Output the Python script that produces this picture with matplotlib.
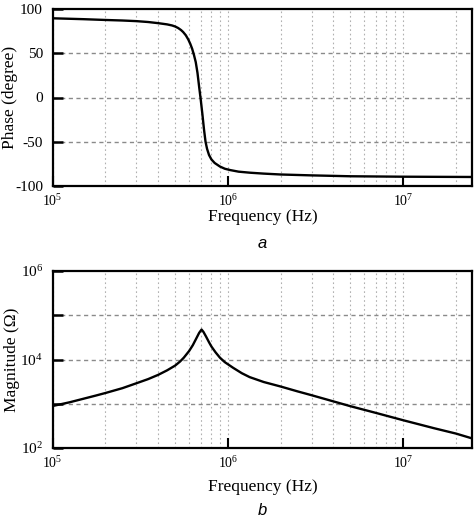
import numpy as np
import matplotlib
matplotlib.use("Agg")
import matplotlib.pyplot as plt
from matplotlib.ticker import FixedLocator, FixedFormatter, NullFormatter

plt.rcParams['font.family'] = ['Liberation Serif', 'DejaVu Serif']
plt.rcParams['mathtext.fontset'] = 'custom'
plt.rcParams['mathtext.rm'] = 'Liberation Serif'
plt.rcParams['mathtext.it'] = 'Liberation Serif:italic'

# ---- data ----
phase_freq = [1e5, 1.5e5, 2e5, 2.5e5, 3e5, 3.5e5, 4e5, 4.5e5, 4.8e5, 5e5, 5.2e5,
              5.4e5, 5.55e5, 5.75e5, 5.94e5, 6.1e5, 6.25e5, 6.4e5, 6.55e5, 6.7e5,
              6.85e5, 7.0e5, 7.15e5, 7.3e5, 7.45e5, 7.6e5, 7.8e5, 8.05e5, 8.4e5,
              9e5, 9.6e5, 1.03e6, 1.15e6, 1.34e6, 1.6e6, 2e6, 3e6, 5e6, 1e7, 2.47e7]
phase_deg = [89.5, 88.5, 87.6, 87.0, 86.3, 85.3, 84.0, 82.6, 81.4, 80.2, 78.5,
             76.2, 74.0, 70.3, 65.5, 60.5, 55.0, 48.0, 40.0, 28.0,
             12.0, -3.0, -19.0, -36.0, -50.0, -58.0, -65.0, -70.0, -74.0,
             -78.0, -80.5, -82.0, -83.8, -85.0, -86.0, -87.0, -88.0, -89.0, -89.5, -89.8]

mag_freq = [1e5, 1.25e5, 1.5e5, 1.75e5, 2e5, 2.5e5, 3e5, 3.5e5, 4e5, 4.5e5, 5e5,
            5.33e5, 5.6e5, 6e5, 6.3e5, 6.6e5, 6.85e5, 7.07e5, 7.25e5, 7.5e5, 7.8e5,
            8.06e5, 8.5e5, 9e5, 9.6e5, 1.07e6, 1.2e6, 1.33e6, 1.6e6, 2e6, 2.5e6,
            3e6, 4e6, 5e6, 7e6, 1e7, 1.5e7, 2e7, 2.47e7]
mag_ohm = [890, 1080, 1300, 1520, 1750, 2250, 2900, 3600, 4500, 5700, 7300,
           9000, 11000, 15500, 21000, 30000, 40000, 47500, 42000, 33000, 24500,
           19500, 14500, 11000, 8700, 6500, 4900, 4000, 3100, 2450, 1900,
           1560, 1130, 880, 620, 424, 280, 212, 165]

x_major = [1e5, 1e6, 1e7]
x_major_labels = [r'$10^{5}$', r'$10^{6}$', r'$10^{7}$']
phase_ticks = [-100, -50, 0, 50, 100]
phase_labels = ['-100', '-50', '0', '50', '100']
mag_ticks = [1e2, 1e3, 1e4, 1e5, 1e6]
mag_labels = [r'$10^{2}$', '', r'$10^{4}$', '', r'$10^{6}$']

xmin, xmax = 1e5, 2.47e7

W, H = 474, 517
fig = plt.figure(figsize=(W / 100, H / 100), dpi=100)

def frac_box(left, top, right, bottom):
    return [left / W, 1 - bottom / H, (right - left) / W, (bottom - top) / H]

ax1 = fig.add_axes(frac_box(52.7, 9, 472, 186))
ax2 = fig.add_axes(frac_box(52.7, 271, 472, 448))

minor_x = [m * 10 ** e for e in range(5, 8) for m in range(2, 10) if m * 10 ** e <= xmax]

def style(ax):
    ax.set_xscale('log')
    ax.set_xlim(xmin, xmax)
    for v in minor_x + x_major:
        ax.axvline(v, color='#b0b0b0', lw=0.8, ls=(0, (1.5, 2.5)), zorder=1)
    ax.xaxis.set_major_locator(FixedLocator(x_major))
    ax.xaxis.set_major_formatter(FixedFormatter(x_major_labels))
    ax.xaxis.set_minor_locator(FixedLocator(minor_x))
    ax.xaxis.set_minor_formatter(NullFormatter())
    ax.tick_params(axis='x', which='major', direction='in', length=7, width=1.5,
                   labelsize=10, pad=5, top=False)
    ax.tick_params(axis='x', which='minor', length=0)
    ax.tick_params(axis='y', which='major', direction='in', length=7, width=1.8,
                   labelsize=11, pad=7, right=False)
    ax.tick_params(axis='y', which='minor', length=0)
    for s in ax.spines.values():
        s.set_linewidth(1.6)

style(ax1)
ax1.set_ylim(-100, 100)
ax1.yaxis.set_major_locator(FixedLocator(phase_ticks))
ax1.yaxis.set_major_formatter(FixedFormatter(phase_labels))
for v in phase_ticks[1:-1]:
    ax1.axhline(v, color='#8a8a8a', lw=1.0, ls=(0, (3, 2.5)), zorder=1)
ax1.plot(phase_freq, phase_deg, color='black', lw=1.7, zorder=3)

style(ax2)
ax2.set_yscale('log')
ax2.set_ylim(1e2, 1e6)
ax2.yaxis.set_major_locator(FixedLocator(mag_ticks))
ax2.yaxis.set_major_formatter(FixedFormatter(mag_labels))
ax2.yaxis.set_minor_formatter(NullFormatter())
for v in mag_ticks[1:-1]:
    ax2.axhline(v, color='#8a8a8a', lw=1.0, ls=(0, (3, 2.5)), zorder=1)
ax2.plot(mag_freq, mag_ohm, color='black', lw=1.7, zorder=3)

cx = (52.7 + 472) / 2 / W
fig.text(cx, 1 - 217 / H, 'Frequency (Hz)', ha='center', va='center', fontsize=12.5)
fig.text(cx, 1 - 244 / H, 'a', ha='center', va='center', fontsize=12,
         family='Liberation Sans', style='italic')
fig.text(cx, 1 - 487 / H, 'Frequency (Hz)', ha='center', va='center', fontsize=12.5)
fig.text(cx, 1 - 510.5 / H, 'b', ha='center', va='center', fontsize=12,
         family='Liberation Sans', style='italic')
fig.text(10 / W, 1 - 97.5 / H, 'Phase (degree)', rotation=90, ha='center',
         va='center', fontsize=12.5)
fig.text(12 / W, 1 - 359.5 / H, 'Magnitude (\u03a9)', rotation=90, ha='center',
         va='center', fontsize=12.5)

fig.savefig('out.png', dpi=100)
